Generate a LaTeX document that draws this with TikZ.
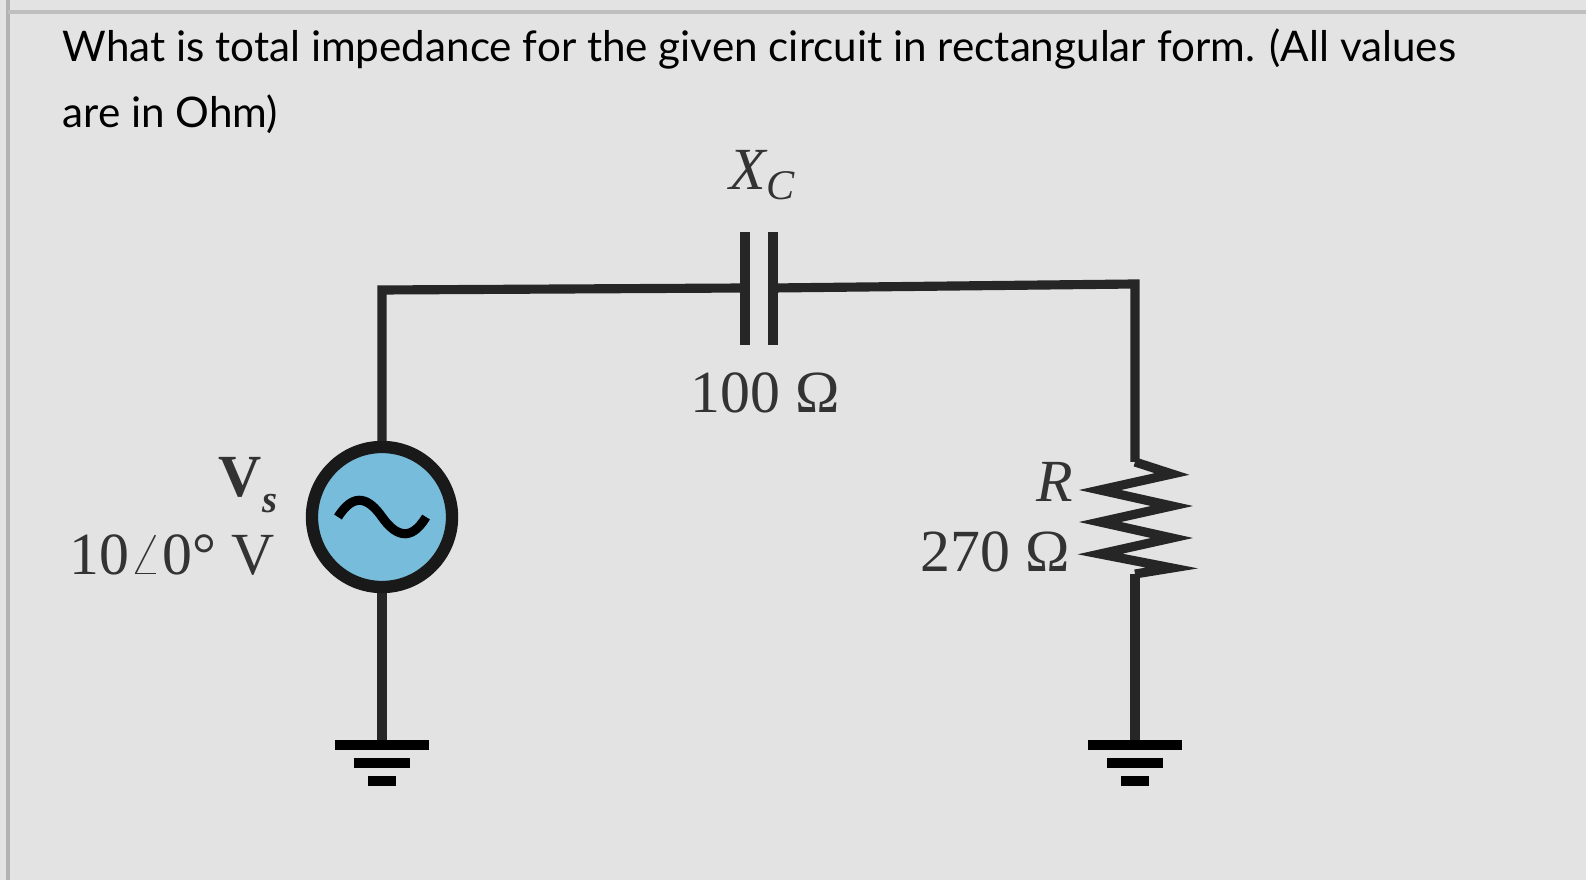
\documentclass[tikz,border=0pt]{standalone}
\usepackage{fontspec}
\setmainfont{Liberation Serif}
\newfontfamily\titlefont{Lato}
\definecolor{srcfill}{HTML}{78BCDB}
\begin{document}
\begin{tikzpicture}[x=0.01cm,y=-0.01cm,
  wire/.style={line width=2.6pt,black!85},
  gnd/.style={line width=2.6pt},
  lbl/.style={inner sep=0pt,font=\fontsize{17}{20}\selectfont,text=black!80}]
\fill[gray!22] (0,0) rectangle (1586,880);
\useasboundingbox (0,0) rectangle (1586,880);
\draw[gray!60,line width=1pt] (8,0) -- (8,880);
\draw[gray!50,line width=1pt] (8,12) -- (1586,12);
\node[anchor=base west,inner sep=0pt,font=\titlefont\fontsize{12}{15}\selectfont] (t1) at (62,62) {What is total impedance for the given circuit in rectangular form. (All values};
\node[anchor=base west,inner sep=0pt,font=\titlefont\fontsize{12}{15}\selectfont] (t2) at (62,128) {are in Ohm)};
\coordinate (tl) at (382,290);
\coordinate (capL) at (745,288);
\coordinate (capR) at (773,288);
\coordinate (tr) at (1135,284);
\coordinate (rtop) at (1135,462);
\coordinate (rbot) at (1135,574);
\coordinate (gR) at (1135,745);
\coordinate (gL) at (382,745);
\node[circle,draw=black!90,line width=3.5pt,fill=srcfill,minimum size=1.4cm,inner sep=0pt] (src) at (382,517) {};
\draw[wire] (src.north) -- (tl) -- (capL);
\draw[wire] (capR) -- (tr) -- (rtop);
\draw[wire] (capL |- 0,232) -- (capL |- 0,345);
\draw[wire] (capR |- 0,232) -- (capR |- 0,345);
\draw[wire,line join=miter] (rtop) -- (1172,474) -- (1100,490) -- (1172,506) -- (1100,522) -- (1172,538) -- (1100,554) -- (1172,568) -- (rbot);
\draw[wire] (rbot) -- (gR);
\draw[wire] (src.south) -- (gL);
\draw[line width=2.6pt] (338,517) .. controls (355,490) and (370,500) .. (382,517) .. controls (394,534) and (410,544) .. (426,517);
\foreach \g in {gL,gR}{
  \draw[gnd] ([xshift=-0.47cm]\g) -- ([xshift=0.47cm]\g);
  \draw[gnd] ([xshift=-0.28cm,yshift=-0.18cm]\g) -- ([xshift=0.28cm,yshift=-0.18cm]\g);
  \draw[gnd] ([xshift=-0.14cm,yshift=-0.36cm]\g) -- ([xshift=0.14cm,yshift=-0.36cm]\g);
}
\node[lbl] (xc) at (762,175) {\itshape X\raisebox{-0.35ex}{\fontsize{12}{13}\selectfont C}};
\node[lbl] (c100) at (765,393) {100 Ω};
\node[lbl] (vs) at (248,485) {\bfseries V\raisebox{-0.6ex}{\fontsize{11}{12}\selectfont\itshape s}};
\node[lbl] (v10) at (172,555) {10$\angle$0° V};
\node[lbl] (r) at (1055,482) {\itshape R};
\node[lbl] (r270) at (995,552) {270 Ω};
\end{tikzpicture}
\end{document}
